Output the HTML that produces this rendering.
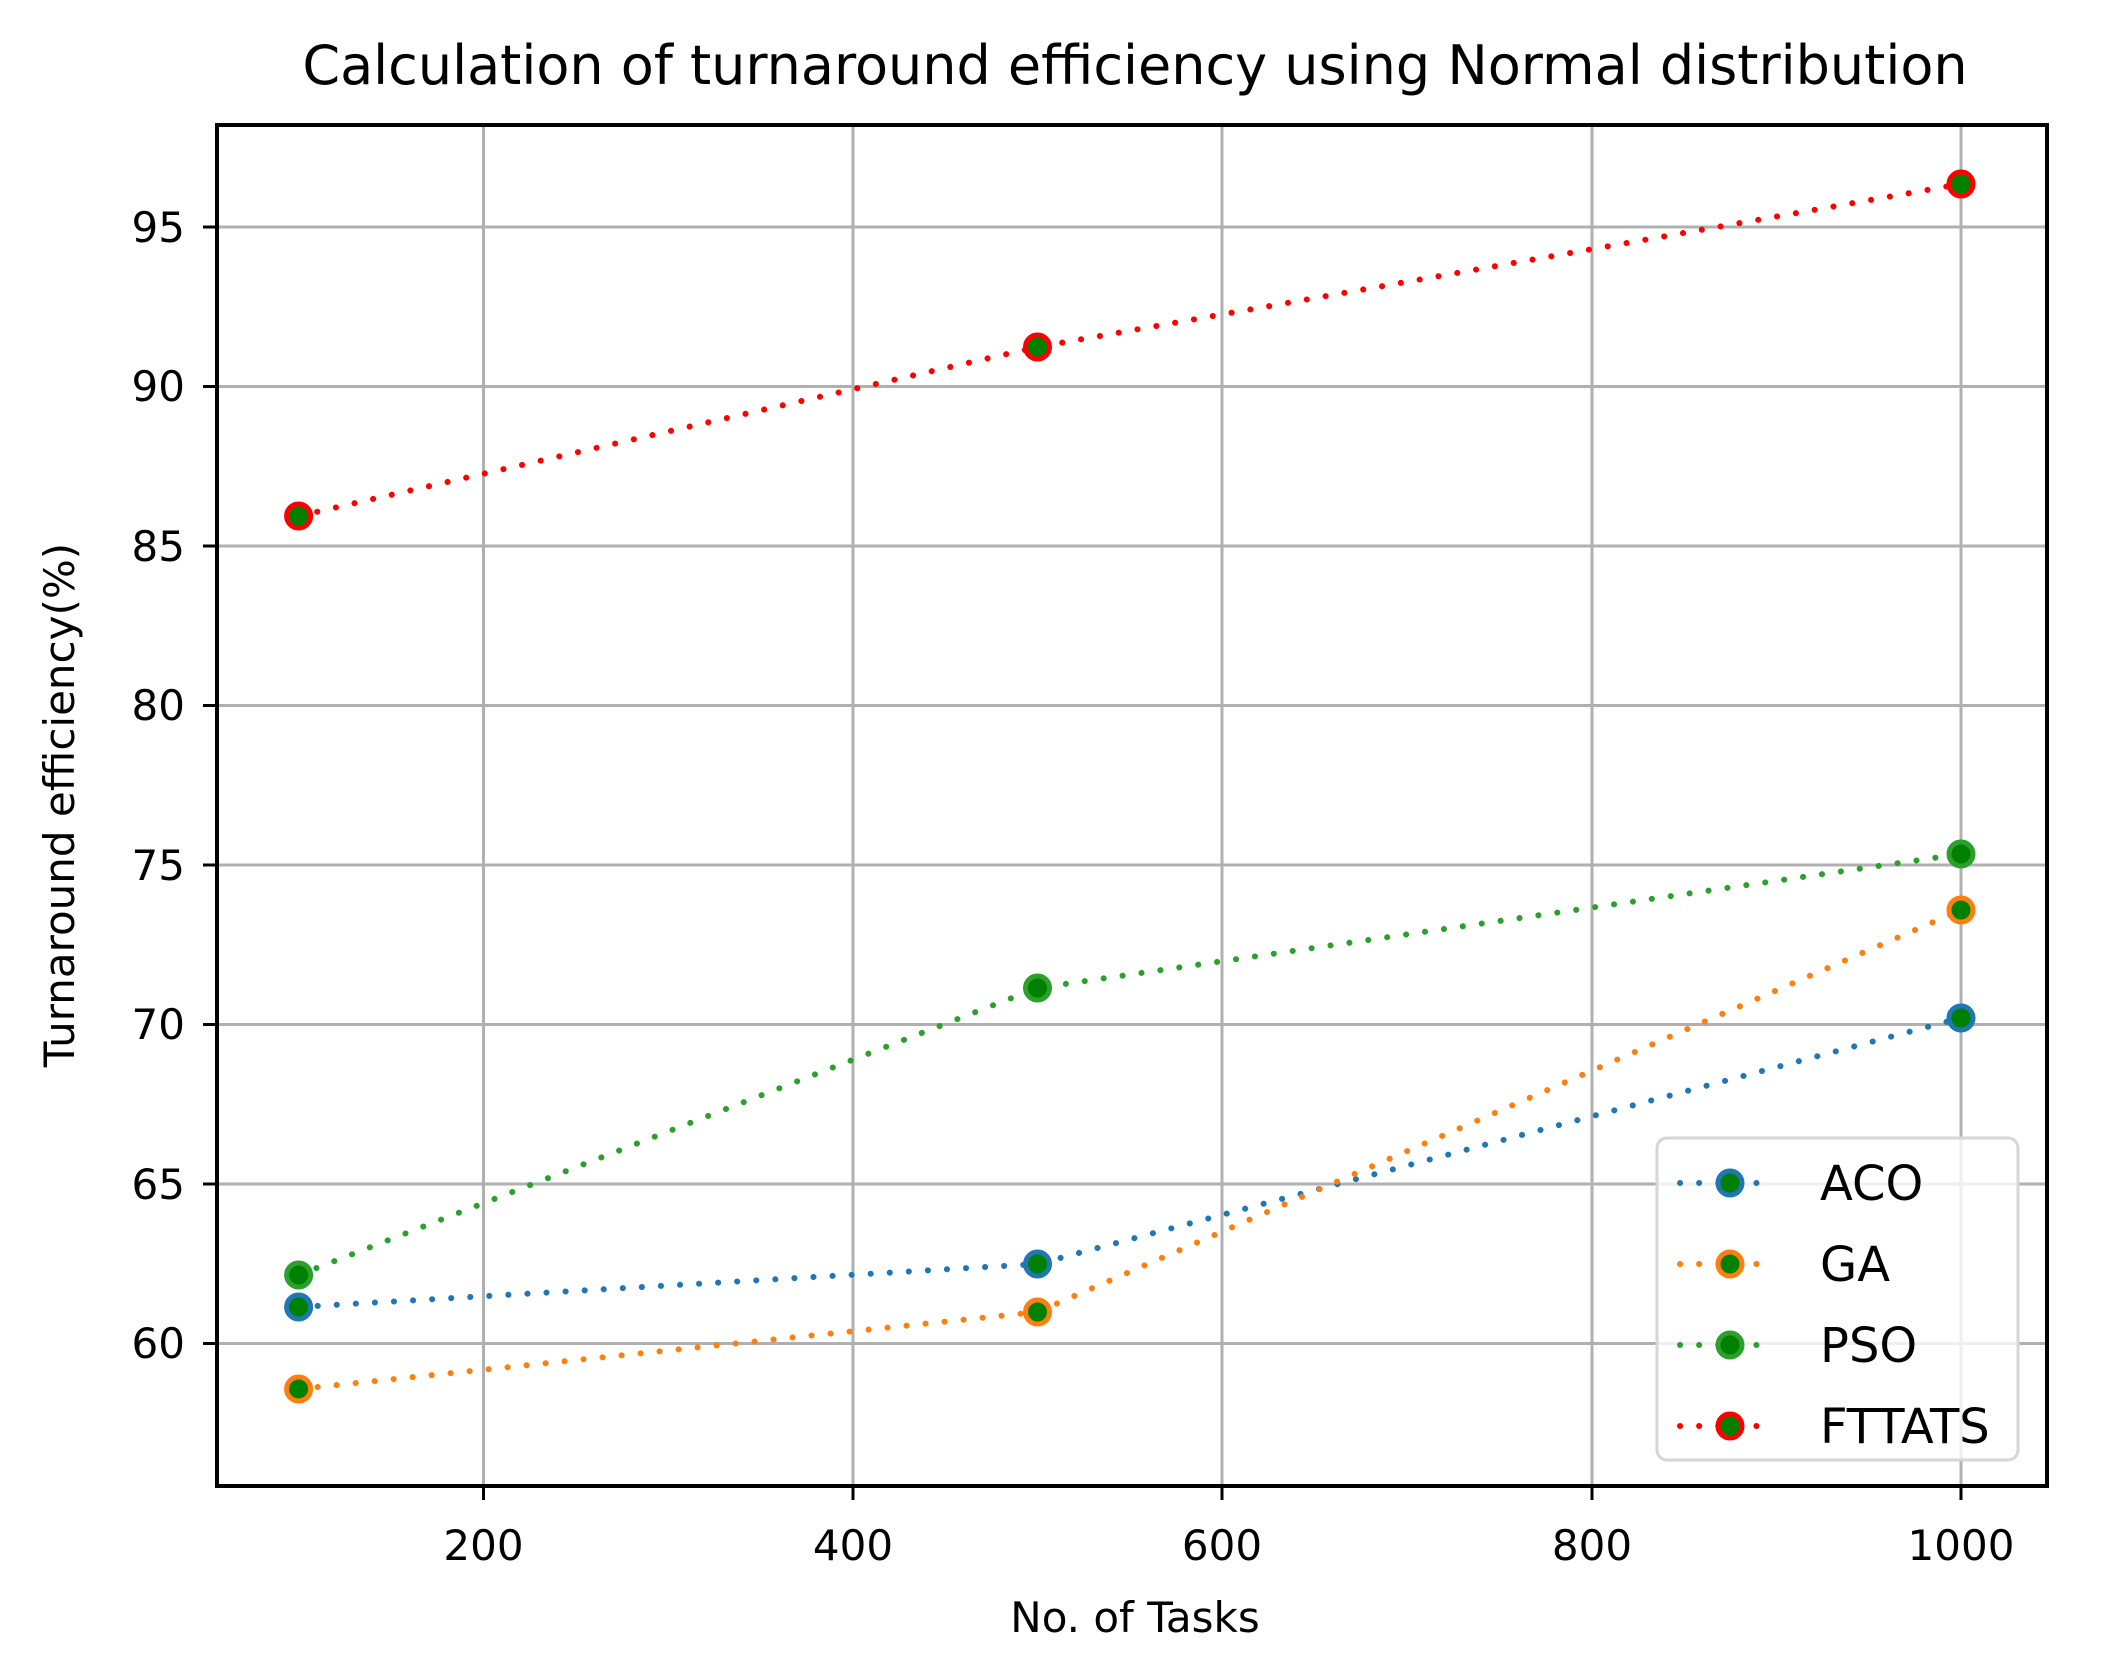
<!DOCTYPE html>
<html><head><meta charset="utf-8"><style>body{margin:0;background:#fff}svg{display:block}</style></head><body>
<svg width="2106" height="1680" viewBox="0 0 2106 1680" xmlns="http://www.w3.org/2000/svg" font-family="DejaVu Sans, Liberation Sans, sans-serif">
<rect width="2106" height="1680" fill="#fff"/>
<g stroke="#b0b0b0" stroke-width="3">
<line x1="483.5" y1="125" x2="483.5" y2="1486"/>
<line x1="853" y1="125" x2="853" y2="1486"/>
<line x1="1222" y1="125" x2="1222" y2="1486"/>
<line x1="1592" y1="125" x2="1592" y2="1486"/>
<line x1="1961" y1="125" x2="1961" y2="1486"/>
<line x1="217" y1="227" x2="2047" y2="227"/>
<line x1="217" y1="386.5" x2="2047" y2="386.5"/>
<line x1="217" y1="546" x2="2047" y2="546"/>
<line x1="217" y1="705.5" x2="2047" y2="705.5"/>
<line x1="217" y1="865" x2="2047" y2="865"/>
<line x1="217" y1="1024.5" x2="2047" y2="1024.5"/>
<line x1="217" y1="1184" x2="2047" y2="1184"/>
<line x1="217" y1="1343.5" x2="2047" y2="1343.5"/>
</g>
<g fill="none" stroke-width="6" stroke-dasharray="0.1 19" stroke-linecap="round">
<polyline stroke="#1f77b4" points="298.6,1307 1037.5,1264 1961,1018"/>
<polyline stroke="#ff7f0e" points="298.6,1389 1037.5,1312 1961,910"/>
<polyline stroke="#2ca02c" points="298.6,1275 1037.5,988 1961,854"/>
<polyline stroke="#ff0000" points="298.6,516 1037.5,347 1961,184"/>
</g>
<g fill="#008000" stroke-width="5">
<g stroke="#1f77b4"><circle cx="298.6" cy="1307" r="12"/><circle cx="1037.5" cy="1264" r="12"/><circle cx="1961" cy="1018" r="12"/></g>
<g stroke="#ff7f0e"><circle cx="298.6" cy="1389" r="12"/><circle cx="1037.5" cy="1312" r="12"/><circle cx="1961" cy="910" r="12"/></g>
<g stroke="#2ca02c"><circle cx="298.6" cy="1275" r="12"/><circle cx="1037.5" cy="988" r="12"/><circle cx="1961" cy="854" r="12"/></g>
<g stroke="#ff0000"><circle cx="298.6" cy="516" r="12"/><circle cx="1037.5" cy="347" r="12"/><circle cx="1961" cy="184" r="12"/></g>
</g>
<rect x="217" y="125" width="1830" height="1361" fill="none" stroke="#000" stroke-width="4"/>
<g stroke="#000" stroke-width="3">
<line x1="483.5" y1="1486" x2="483.5" y2="1500"/><line x1="853" y1="1486" x2="853" y2="1500"/><line x1="1222" y1="1486" x2="1222" y2="1500"/><line x1="1592" y1="1486" x2="1592" y2="1500"/><line x1="1961" y1="1486" x2="1961" y2="1500"/>
<line x1="203" y1="227" x2="217" y2="227"/><line x1="203" y1="386.5" x2="217" y2="386.5"/><line x1="203" y1="546" x2="217" y2="546"/><line x1="203" y1="705.5" x2="217" y2="705.5"/><line x1="203" y1="865" x2="217" y2="865"/><line x1="203" y1="1024.5" x2="217" y2="1024.5"/><line x1="203" y1="1184" x2="217" y2="1184"/><line x1="203" y1="1343.5" x2="217" y2="1343.5"/>
</g>
<g font-size="42" fill="#000" text-anchor="end">
<text x="185" y="242">95</text><text x="185" y="401">90</text><text x="185" y="561">85</text><text x="185" y="720">80</text><text x="185" y="880">75</text><text x="185" y="1039">70</text><text x="185" y="1199">65</text><text x="185" y="1358">60</text>
</g>
<g font-size="42" fill="#000" text-anchor="middle">
<text x="483.5" y="1560">200</text><text x="853" y="1560">400</text><text x="1222" y="1560">600</text><text x="1592" y="1560">800</text><text x="1961" y="1560">1000</text>
<text x="1135" y="1632">No. of Tasks</text>
<text x="1135" y="84" font-size="54">Calculation of turnaround efficiency using Normal distribution</text>
<text transform="translate(74,805) rotate(-90)">Turnaround efficiency(%)</text>
</g>
<rect x="1657" y="1138" width="361" height="322" rx="10" fill="#fff" fill-opacity="0.8" stroke="#d6d6d6" stroke-width="3"/>
<g fill="none" stroke-width="6" stroke-dasharray="0.1 19" stroke-linecap="round">
<line x1="1680" y1="1183" x2="1765" y2="1183" stroke="#1f77b4"/>
<line x1="1680" y1="1264" x2="1765" y2="1264" stroke="#ff7f0e"/>
<line x1="1680" y1="1345" x2="1765" y2="1345" stroke="#2ca02c"/>
<line x1="1680" y1="1426" x2="1765" y2="1426" stroke="#ff0000"/>
</g>
<g fill="#008000" stroke-width="5">
<circle cx="1730" cy="1183" r="12" stroke="#1f77b4"/><circle cx="1730" cy="1264" r="12" stroke="#ff7f0e"/><circle cx="1730" cy="1345" r="12" stroke="#2ca02c"/><circle cx="1730" cy="1426" r="12" stroke="#ff0000"/>
</g>
<g font-size="48" fill="#000">
<text x="1820" y="1200">ACO</text><text x="1820" y="1281">GA</text><text x="1820" y="1362">PSO</text><text x="1820" y="1443">FTTATS</text>
</g>
</svg>
</body></html>
